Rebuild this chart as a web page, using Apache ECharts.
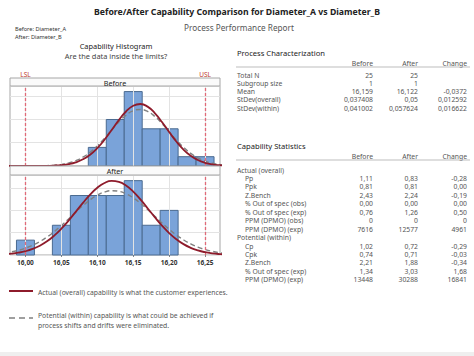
<!DOCTYPE html>
<html><head><meta charset="utf-8">
<script src="https://cdn.jsdelivr.net/npm/echarts@6/dist/echarts.min.js"></script>
<style>html,body{margin:0;padding:0;background:#fff}#c{width:474px;height:356px}</style>
</head><body><div id="c"></div>
<script>
// ---- data ----
const binWidth = 0.025;
const beforeBins = [16.100, 16.125, 16.150, 16.175, 16.200, 16.225, 16.250];
const beforeCounts = [2, 5, 8, 4, 4, 1, 1];
const afterBins = [16.000, 16.025, 16.050, 16.075, 16.100, 16.125, 16.150, 16.175, 16.200];
const afterCounts = [1, 0, 2, 4, 4, 4, 5, 2, 3];
const curveX = [15.97,15.98,15.99,16.00,16.01,16.02,16.03,16.04,16.05,16.06,16.07,16.08,16.09,16.10,16.11,16.12,16.13,16.14,16.15,16.16,16.17,16.18,16.19,16.20,16.21,16.22,16.23,16.24,16.25,16.26,16.27,16.28];
const beforeOverall = [0.00,0.0001,0.0002,0.0008,0.0024,0.0067,0.0175,0.042,0.096,0.201,0.393,0.717,1.216,1.921,2.826,3.870,4.935,5.859,6.475,6.663,6.383,5.693,4.728,3.656,2.631,1.763,1.100,0.639,0.346,0.174,0.082,0.036];
const beforeWithin = [0.0001,0.0004,0.0012,0.0033,0.0083,0.0194,0.043,0.090,0.178,0.330,0.577,0.950,1.476,2.159,2.977,3.868,4.735,5.462,5.936,6.079,5.866,5.333,4.569,3.688,2.806,2.011,1.358,0.864,0.518,0.293,0.156,0.078];
const afterOverall = [0.049,0.088,0.153,0.254,0.406,0.622,0.918,1.300,1.768,2.312,2.904,3.504,4.063,4.527,4.845,4.983,4.923,4.674,4.263,3.736,3.146,2.545,1.978,1.477,1.060,0.731,0.484,0.308,0.188,0.111,0.062,0.034];
const afterWithin = [0.133,0.208,0.314,0.460,0.655,0.903,1.210,1.572,1.982,2.426,2.880,3.318,3.709,4.023,4.234,4.324,4.285,4.121,3.845,3.481,3.059,2.607,2.157,1.731,1.348,1.019,0.747,0.532,0.367,0.246,0.160,0.101];
const specLimits = [16.00, 16.25];
const specNames = ['LSL', 'USL'];
const xTicks = [16.00, 16.05, 16.10, 16.15, 16.20, 16.25];

const pcLabels = ['Total N', 'Subgroup size', 'Mean', 'StDev(overall)', 'StDev(within)'];
const pcBefore = ['25', '1', '16,159', '0,037408', '0,041002'];
const pcAfter = ['25', '1', '16,122', '0,05', '0,057624'];
const pcChange = ['', '', '-0,0372', '0,012592', '0,016622'];
const csLabels = ['Actual (overall)', 'Pp', 'Ppk', 'Z.Bench', '% Out of spec (obs)', '% Out of spec (exp)', 'PPM (DPMO) (obs)', 'PPM (DPMO) (exp)', 'Potential (within)', 'Cp', 'Cpk', 'Z.Bench', '% Out of spec (exp)', 'PPM (DPMO) (exp)'];
const csIndent = [0, 1, 1, 1, 1, 1, 1, 1, 0, 1, 1, 1, 1, 1];
const csBefore = ['', '1,11', '0,81', '2,43', '0,00', '0,76', '0', '7616', '', '1,02', '0,74', '2,21', '1,34', '13448'];
const csAfter = ['', '0,83', '0,81', '2,24', '0,00', '1,26', '0', '12577', '', '0,72', '0,71', '1,88', '3,03', '30288'];
const csChange = ['', '-0,28', '0,00', '-0,19', '0,00', '0,50', '0', '4961', '', '-0,29', '-0,03', '-0,34', '1,68', '16841'];
const colHeaders = ['Before', 'After', 'Change'];

// ---- styles ----
const FONT = '"Noto Sans", "Open Sans", sans-serif';
const BAR_FILL = '#7aa3d9', BAR_STROKE = '#4a6a90';
const RED = '#8e1b2b', GRAY_DASH = '#808080', SPEC = '#e06a78', GRID = '#e3e3e3', FRAME = '#a6a6a6';
const BODY = '#555';
const X_MIN = 15.9785, X_MAX = 16.2708;

function T(x, y, text, size, opt) {
  opt = opt || {};
  return { type: 'text', x: x, y: y, silent: true, z: 10,
    style: { text: text, fontSize: size, fontFamily: FONT, fill: opt.fill || '#333',
      fontWeight: opt.weight || 'normal', align: opt.align || 'left', verticalAlign: 'middle' } };
}

function histSeries(bins, counts, idx) {
  return {
    type: 'custom', xAxisIndex: idx, yAxisIndex: idx, z: 3, silent: true,
    data: bins.map((b, i) => [b - binWidth / 2, b + binWidth / 2, counts[i]]).filter(d => d[2] > 0),
    encode: { x: [0, 1], y: 2 },
    renderItem: function (params, api) {
      const p0 = api.coord([api.value(0), api.value(2)]);
      const p1 = api.coord([api.value(1), 0]);
      return { type: 'rect', shape: { x: p0[0], y: p0[1], width: p1[0] - p0[0], height: p1[1] - p0[1] },
        style: { fill: BAR_FILL, stroke: BAR_STROKE, lineWidth: 1 } };
    }
  };
}
function curveSeries(ys, idx, dashed) {
  return {
    type: 'line', xAxisIndex: idx, yAxisIndex: idx, z: dashed ? 4 : 5, silent: true,
    data: curveX.map((x, i) => [x, ys[i]]), showSymbol: false, smooth: true, clip: true,
    lineStyle: dashed ? { color: GRAY_DASH, width: 1.4, type: [5, 3] } : { color: RED, width: 1.8 }
  };
}
function refLines(idx, withLabel) {
  return [{
    type: 'line', xAxisIndex: idx, yAxisIndex: idx, data: [], z: 1, silent: true,
    markLine: { silent: true, symbol: 'none', animation: false, label: { show: false },
      lineStyle: { color: GRID, type: 'solid', width: 1 },
      data: xTicks.map(v => ({ xAxis: v })) }
  }, {
    type: 'line', xAxisIndex: idx, yAxisIndex: idx, data: [], z: 2, silent: true,
    markLine: { silent: true, symbol: 'none', animation: false,
      label: withLabel ? { show: true, position: 'end', distance: 8, formatter: p => p.name,
        color: '#c0392b', fontSize: 6.5, fontFamily: FONT } : { show: false },
      lineStyle: { color: SPEC, type: [3, 2], width: 1.3 },
      data: specLimits.map((v, i) => ({ xAxis: v, name: specNames[i] })) }
  }];
}

// ---- graphic texts ----
const g = [];
g.push(T(237, 12, 'Before/After Capability Comparison for Diameter_A vs Diameter_B', 8.7, { weight: 'bold', fill: '#222', align: 'center' }));
g.push(T(239, 27, 'Process Performance Report', 8.2, { fill: '#555', align: 'center' }));
g.push(T(15, 29, 'Before: Diameter_A', 5.6, { fill: '#333' }));
g.push(T(15, 37, 'After: Diameter_B', 5.6, { fill: '#333' }));
g.push(T(116, 46, 'Capability Histogram', 7.4, { fill: '#222', align: 'center' }));
g.push(T(116, 56, 'Are the data inside the limits?', 7.4, { fill: '#444', align: 'center' }));
// strips
g.push({ type: 'rect', shape: { x: 10, y: 78, width: 210, height: 8 }, style: { fill: '#fafafa', stroke: FRAME, lineWidth: 1 }, z: 9, silent: true });
g.push({ type: 'rect', shape: { x: 10, y: 166, width: 210, height: 9 }, style: { fill: '#fafafa', stroke: FRAME, lineWidth: 1 }, z: 9, silent: true });
g.push(T(115, 82.5, 'Before', 7.2, { fill: '#222', align: 'center' }));
g.push(T(115, 171, 'After', 7.2, { fill: '#222', align: 'center' }));
// legend
g.push({ type: 'line', shape: { x1: 9, y1: 291, x2: 33, y2: 291 }, style: { stroke: RED, lineWidth: 2 }, z: 10, silent: true });
g.push(T(38, 292, 'Actual (overall) capability is what the customer experiences.', 6.8, { fill: BODY }));
g.push({ type: 'line', shape: { x1: 9, y1: 318, x2: 33, y2: 318 }, style: { stroke: GRAY_DASH, lineWidth: 1.4, lineDash: [6, 4] }, z: 10, silent: true });
g.push(T(38, 315, 'Potential (within) capability is what could be achieved if', 6.8, { fill: BODY }));
g.push(T(38, 325, 'process shifts and drifts were eliminated.', 6.8, { fill: BODY }));
g.push({ type: 'rect', shape: { x: 0, y: 352, width: 474, height: 4 }, style: { fill: '#efefef' }, z: 1, silent: true });

// tables
const colX = [373, 418, 467];
const TS = 6.8;
function header(y, title) {
  g.push(T(237, y, title, 7.6, { fill: '#222' }));
  colHeaders.forEach((h, i) => g.push(T(colX[i], y + 10, h, TS, { fill: BODY, align: 'right' })));
  g.push({ type: 'line', shape: { x1: 236, y1: y + 14, x2: 470, y2: y + 14 }, style: { stroke: '#bdbdbd', lineWidth: 1 }, z: 10, silent: true });
}
header(53, 'Process Characterization');
pcLabels.forEach((l, i) => {
  const y = 75 + i * 8.25;
  g.push(T(237, y, l, TS, { fill: BODY }));
  g.push(T(colX[0], y, pcBefore[i], TS, { fill: BODY, align: 'right' }));
  g.push(T(colX[1], y, pcAfter[i], TS, { fill: BODY, align: 'right' }));
  g.push(T(colX[2], y, pcChange[i], TS, { fill: BODY, align: 'right' }));
});
header(146, 'Capability Statistics');
csLabels.forEach((l, i) => {
  const y = 170 + i * 8.45;
  g.push(T(csIndent[i] ? 245 : 237, y, l, TS, { fill: BODY }));
  g.push(T(colX[0], y, csBefore[i], TS, { fill: BODY, align: 'right' }));
  g.push(T(colX[1], y, csAfter[i], TS, { fill: BODY, align: 'right' }));
  g.push(T(colX[2], y, csChange[i], TS, { fill: BODY, align: 'right' }));
});

const chart = echarts.init(document.getElementById('c'), null, { renderer: 'svg' });
chart.setOption({
  animation: false,
  backgroundColor: '#fff',
  grid: [
    { left: 10, top: 86, width: 210, height: 80, show: true, borderColor: FRAME, borderWidth: 1, backgroundColor: 'transparent' },
    { left: 10, top: 175, width: 210, height: 80, show: true, borderColor: FRAME, borderWidth: 1, backgroundColor: 'transparent' }
  ],
  xAxis: [
    { type: 'value', gridIndex: 0, min: X_MIN, max: X_MAX, axisLine: { show: false }, axisTick: { show: false }, axisLabel: { show: false }, splitLine: { show: false } },
    { type: 'value', gridIndex: 1, min: X_MIN, max: X_MAX, axisLine: { show: false },
      axisTick: { show: true, length: 2, customValues: xTicks, lineStyle: { color: '#888' } },
      axisLabel: { show: true, customValues: xTicks, margin: 4, fontSize: 6.5, fontWeight: 'bold', color: '#333', fontFamily: FONT,
        formatter: v => v.toFixed(2).replace('.', ',') },
      splitLine: { show: false } }
  ],
  yAxis: [
    { type: 'value', gridIndex: 0, min: 0, max: 8.6, interval: 2.5, axisLine: { show: false }, axisTick: { show: false }, axisLabel: { show: false }, splitLine: { show: true, lineStyle: { color: GRID } } },
    { type: 'value', gridIndex: 1, min: 0, max: 5.38, interval: 1.5, axisLine: { show: false }, axisTick: { show: false }, axisLabel: { show: false }, splitLine: { show: true, lineStyle: { color: GRID } } }
  ],
  series: [].concat(
    refLines(0, true), refLines(1, false),
    [histSeries(beforeBins, beforeCounts, 0), histSeries(afterBins, afterCounts, 1),
     curveSeries(beforeWithin, 0, true), curveSeries(beforeOverall, 0, false),
     curveSeries(afterWithin, 1, true), curveSeries(afterOverall, 1, false)]
  ),
  graphic: g
});
</script>
</body></html>
